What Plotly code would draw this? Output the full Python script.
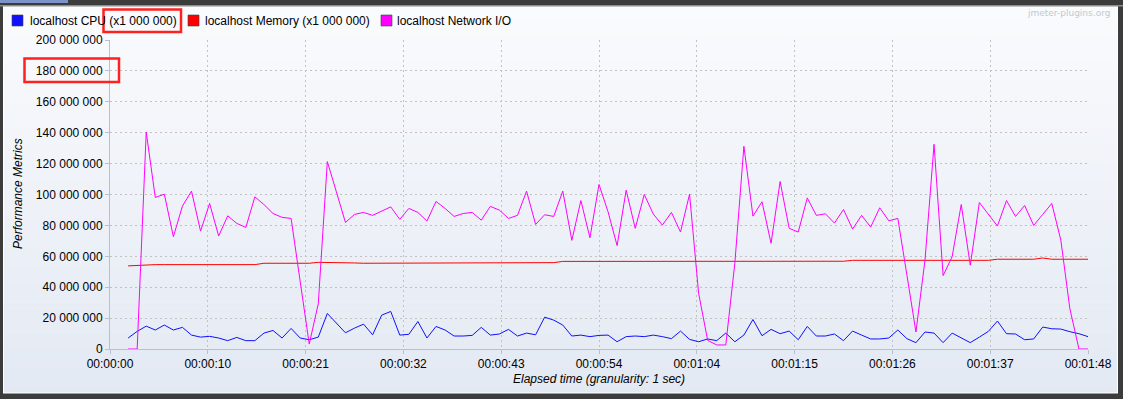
import plotly.graph_objects as go

# ---------------- data (in millions) ----------------
SCALE = 1_000_000

time_sec = list(range(2, 109))  # elapsed seconds 2..108

cpu_values = [
    7.1, 11.4, 14.8, 12.3, 15.5, 12.3, 14.0, 9.0, 7.7, 8.2,
    7.1, 5.4, 7.5, 5.4, 5.4, 10.3, 12.0, 7.1, 13.3, 7.1,
    6.0, 7.7, 23.0, 16.8, 10.5, 13.5, 16.1, 9.2, 21.9, 24.3,
    9.0, 9.5, 17.8, 7.1, 14.6, 12.3, 8.4, 8.4, 8.8, 14.0,
    9.0, 9.7, 12.7, 8.4, 10.3, 9.2, 20.6, 18.7, 15.5, 8.4,
    9.0, 8.0, 8.8, 9.0, 4.7, 8.0, 8.4, 8.0, 9.0, 8.0,
    6.7, 11.6, 6.2, 4.7, 6.5, 5.4, 10.3, 4.7, 9.0, 19.1,
    8.6, 12.7, 9.9, 11.6, 6.0, 14.6, 8.4, 8.4, 9.7, 5.4,
    11.6, 9.0, 6.5, 6.5, 7.1, 12.3, 6.7, 4.1, 11.0, 10.3,
    4.1, 10.3, 7.1, 4.1, 7.7, 11.4, 18.1, 9.9, 9.7, 6.0,
    6.5, 14.2, 13.1, 12.9, 11.2, 9.9, 8.0,
]

memory_values = [
    53.8, 54.2, 54.4, 54.6, 54.6, 54.6, 54.6, 54.6, 54.6, 54.6,
    54.6, 54.6, 54.6, 54.6, 54.6, 55.5, 55.5, 55.5, 55.5, 55.5,
    55.5, 56.1, 56.1, 56.1, 56.1, 55.7, 55.5, 55.5, 55.5, 55.9,
    55.9, 55.9, 55.9, 55.9, 55.9, 55.9, 55.9, 55.9, 55.9, 55.9,
    55.9, 55.9, 55.9, 55.9, 55.9, 55.9, 55.9, 55.9, 56.7, 56.7,
    56.7, 56.7, 56.7, 56.7, 56.7, 56.7, 56.7, 56.7, 56.7, 56.7,
    56.7, 56.7, 56.7, 56.7, 56.7, 56.7, 56.7, 56.7, 56.7, 56.7,
    56.7, 56.7, 56.7, 56.7, 56.7, 56.7, 56.7, 56.7, 56.7, 56.8,
    57.4, 57.4, 57.4, 57.4, 57.4, 57.4, 57.4, 57.4, 57.4, 57.4,
    57.4, 57.4, 57.4, 57.4, 57.4, 57.4, 58.1, 58.1, 58.1, 58.1,
    58.1, 58.9, 58.1, 58.1, 58.1, 58.1, 58.1,
]

network_values = [
    0.0, 0.0, 140.4, 98.1, 100.2, 72.7, 92.5, 102.2, 76.3, 94.2,
    73.1, 86.2, 81.3, 78.7, 98.5, 93.5, 87.7, 85.2, 84.5, 43.0,
    3.2, 29.2, 121.3, 101.7, 81.9, 87.1, 88.4, 86.5, 89.5, 92.0,
    83.9, 91.0, 88.4, 82.8, 95.5, 91.0, 85.8, 87.7, 88.4, 83.4,
    92.3, 89.9, 84.5, 86.5, 102.2, 80.6, 86.9, 85.8, 102.2, 70.3,
    96.1, 72.0, 106.5, 88.8, 66.9, 102.8, 78.1, 100.0, 87.3, 80.2,
    88.4, 75.7, 100.2, 36.1, 5.6, 2.6, 2.6, 55.5, 131.2, 86.0,
    95.3, 68.4, 108.4, 78.1, 75.7, 97.8, 86.5, 87.5, 81.5, 90.3,
    77.6, 86.5, 78.9, 91.4, 83.0, 84.5, 48.0, 11.0, 57.6, 132.5,
    47.5, 59.8, 93.5, 54.2, 94.8, 87.1, 79.6, 96.1, 85.8, 92.9,
    80.0, 87.1, 94.2, 70.5, 26.0, 0.0, 0.0,
]

series_names = [
    "localhost CPU (x1 000 000)",
    "localhost Memory (x1 000 000)",
    "localhost Network I/O",
]
series_colors = ["#1010ff", "#ff0000", "#ff00ff"]

x_tick_vals = [0, 10.8, 21.6, 32.4, 43.2, 54.0, 64.8, 75.6, 86.4, 97.2, 108.0]
x_tick_text = ["00:00:00", "00:00:10", "00:00:21", "00:00:32", "00:00:43", "00:00:54",
               "00:01:04", "00:01:15", "00:01:26", "00:01:37", "00:01:48"]
y_tick_vals = [0, 20, 40, 60, 80, 100, 120, 140, 160, 180, 200]

# ---------------- layout helpers (pixel -> paper) ----------------
W, H = 1123, 399
ML, MR, MT, MB = 110, 35, 40, 50
PW, PH = W - ML - MR, H - MT - MB


def px(x):
    return (x - ML) / PW


def py(y):
    return (H - MB - y) / PH


FONT = "Liberation Sans, Arial, sans-serif"

fig = go.Figure()
for vals, name, color in zip([cpu_values, memory_values, network_values], series_names, series_colors):
    fig.add_trace(go.Scatter(
        x=time_sec, y=[v * SCALE for v in vals], mode="lines", name=name,
        line=dict(color=color, width=1), showlegend=False, hoverinfo="skip",
    ))

shapes = []
# light panel with white edge
shapes.append(dict(type="rect", xref="paper", yref="paper", x0=px(3), x1=px(1118), y0=py(393.5), y1=py(6),
                   fillcolor="#ffffff", line=dict(width=0), layer="below"))
# vertical gradient (stacked bands)
top = (250, 251, 253)
bot = (227, 233, 243)
y_top, y_bot = 7.0, 392.5
n = 64
for i in range(n):
    f = (i + 0.5) / n
    c = tuple(round(top[k] + (bot[k] - top[k]) * f) for k in range(3))
    ya = y_top + (y_bot - y_top) * i / n
    yb = y_top + (y_bot - y_top) * (i + 1) / n + 0.6
    shapes.append(dict(type="rect", xref="paper", yref="paper", x0=px(4), x1=px(1117),
                       y0=py(min(yb, y_bot)), y1=py(ya),
                       fillcolor="rgb(%d,%d,%d)" % c, line=dict(width=0), layer="below"))
# top band details
shapes.append(dict(type="rect", xref="paper", yref="paper", x0=px(0), x1=px(1123), y0=py(6.5), y1=py(5),
                   fillcolor="#8c8c8c", line=dict(width=0), layer="below"))
shapes.append(dict(type="rect", xref="paper", yref="paper", x0=px(0), x1=px(68), y0=py(3), y1=py(0),
                   fillcolor="#7d92c8", line=dict(width=0), layer="below"))

# legend squares
legend_sq_x = [12, 188, 381]
legend_text_x = [28, 203, 395]
for sx, color in zip(legend_sq_x, series_colors):
    shapes.append(dict(type="rect", xref="paper", yref="paper", x0=px(sx), x1=px(sx + 11),
                       y0=py(26), y1=py(15), fillcolor=color,
                       line=dict(color="#404040", width=0.6), layer="above"))

# red highlight boxes
shapes.append(dict(type="rect", xref="paper", yref="paper", x0=px(103.5), x1=px(181), y0=py(32), y1=py(9.5),
                   fillcolor="rgba(0,0,0,0)", line=dict(color="#ff2020", width=2.5), layer="above"))
shapes.append(dict(type="rect", xref="paper", yref="paper", x0=px(24.5), x1=px(119), y0=py(82), y1=py(58.5),
                   fillcolor="rgba(0,0,0,0)", line=dict(color="#ff2020", width=2.5), layer="above"))

annotations = []
for tx, name in zip(legend_text_x, series_names):
    annotations.append(dict(text=name, xref="paper", yref="paper", x=px(tx), y=py(21),
                            xanchor="left", yanchor="middle", showarrow=False,
                            font=dict(family=FONT, size=12, color="#000000")))
annotations.append(dict(text="jmeter-plugins.org", xref="paper", yref="paper", x=px(1112), y=py(13),
                        xanchor="right", yanchor="middle", showarrow=False,
                        font=dict(family="DejaVu Sans, sans-serif", size=9, color="#c3c8d0")))
annotations.append(dict(text="Performance Metrics", xref="paper", yref="paper", x=px(18), y=py(194),
                        xanchor="center", yanchor="middle", showarrow=False, textangle=-90,
                        font=dict(family=FONT, size=12, color="#000000", style="italic")))
annotations.append(dict(text="Elapsed time (granularity: 1 sec)", xref="paper", yref="paper",
                        x=px(599), y=py(379), xanchor="center", yanchor="middle", showarrow=False,
                        font=dict(family=FONT, size=12, color="#000000", style="italic")))

axis_color = "#b6c0ce"
grid_color = "#c2c2c2"

fig.update_layout(
    template="none",
    width=W, height=H,
    margin=dict(l=ML, r=MR, t=MT, b=MB, pad=0),
    paper_bgcolor="#3c3c3c",
    plot_bgcolor="rgba(0,0,0,0)",
    separators=". ",
    showlegend=False,
    hovermode=False,
    shapes=shapes,
    annotations=annotations,
    font=dict(family=FONT, size=12, color="#000000"),
    xaxis=dict(
        range=[0, 108], tickmode="array", tickvals=x_tick_vals, ticktext=x_tick_text,
        showgrid=True, gridcolor=grid_color, griddash="2px,3px", gridwidth=1,
        showline=True, linecolor=axis_color, linewidth=1, zeroline=False,
        ticks="outside", ticklen=4, tickcolor=axis_color, automargin=False,
        tickfont=dict(family=FONT, size=12, color="#000000"),
    ),
    yaxis=dict(
        range=[0, 200 * SCALE], tickmode="array", tickvals=[v * SCALE for v in y_tick_vals],
        tickformat=",d",
        showgrid=True, gridcolor=grid_color, griddash="2px,3px", gridwidth=1,
        showline=True, linecolor=axis_color, linewidth=1, zeroline=False,
        ticks="outside", ticklen=4, tickcolor=axis_color, automargin=False,
        tickfont=dict(family=FONT, size=12, color="#000000"),
    ),
)

fig.write_html(
    "out.html",
    config={"displayModeBar": False, "staticPlot": True},
    post_script="document.body.style.margin='0px';document.body.style.overflow='hidden';",
)
